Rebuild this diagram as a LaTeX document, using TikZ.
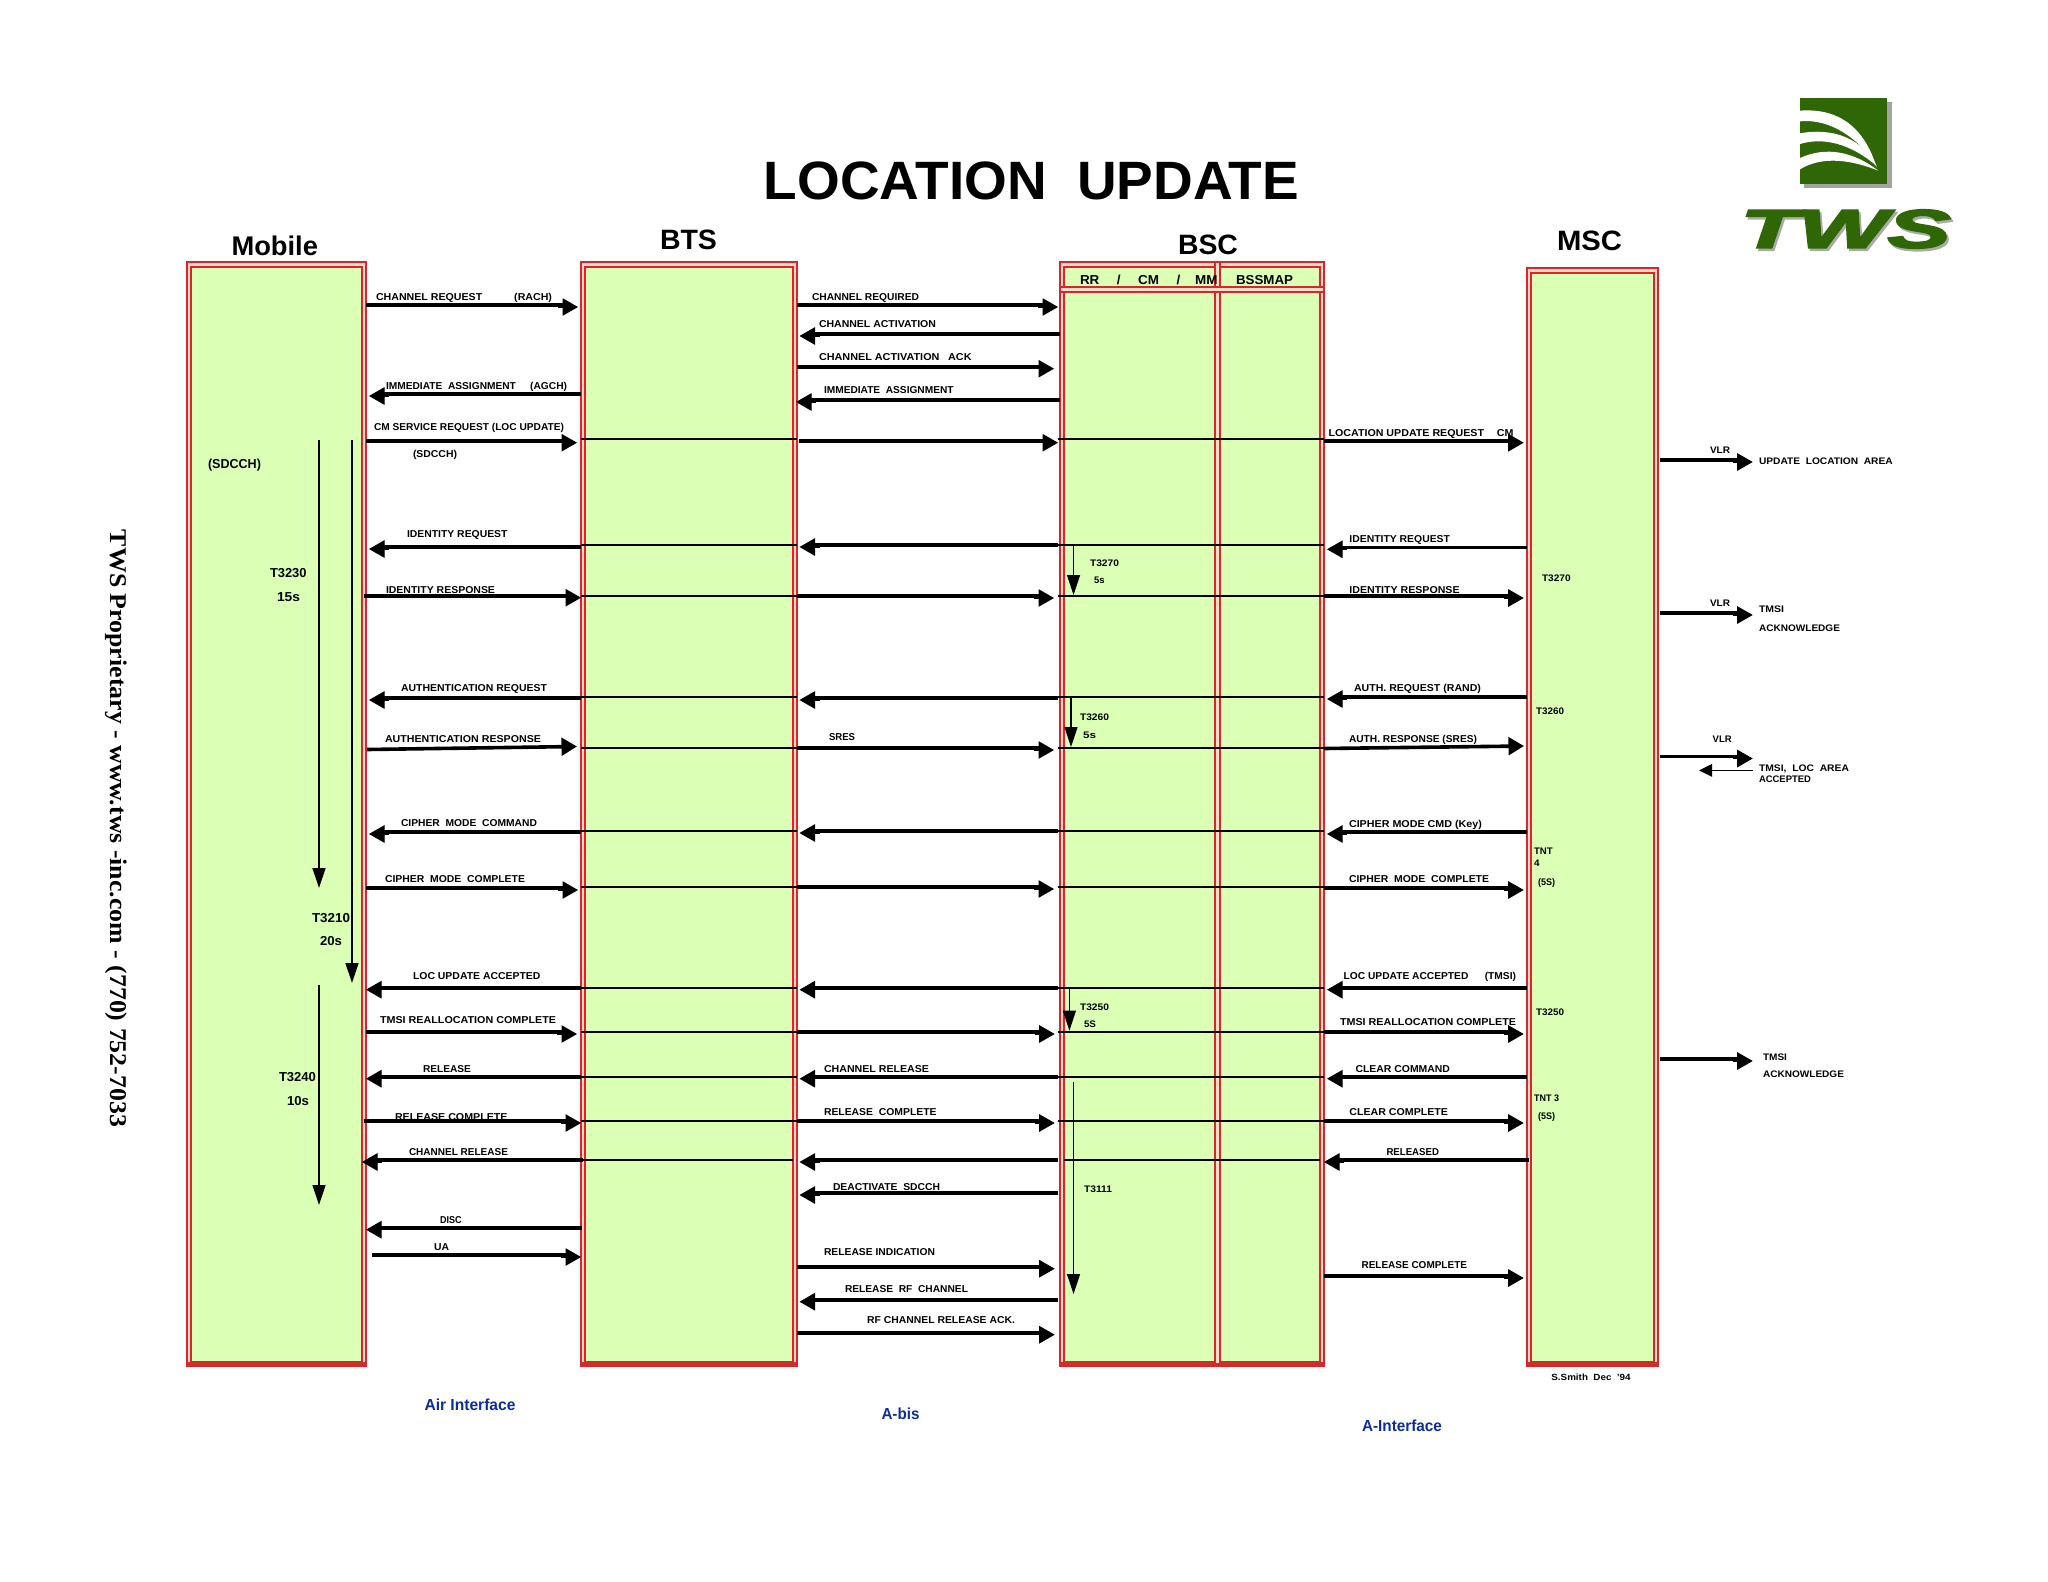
\documentclass[tikz,border=0pt]{standalone}
\usepackage{fontspec}
\setmainfont{Liberation Sans}
\newfontfamily\serifbold{Liberation Serif}
\newfontfamily\twsface[RawFeature={embolden=3}]{Liberation Sans}
\usetikzlibrary{arrows.meta}
\definecolor{lanefill}{HTML}{DBFFB4}
\definecolor{lanegap}{HTML}{FADFC4}
\definecolor{laneline}{HTML}{E3202C}
\definecolor{lanebase}{HTML}{CC3028}
\definecolor{ifaceblue}{HTML}{0C2C9C}
\definecolor{twsgreen}{HTML}{2F6606}
\definecolor{twsshadow}{HTML}{A8ADA4}
\tikzset{
  laneouter/.style={draw=laneline,line width=1.6pt,fill=lanegap,inner sep=0pt,outer sep=0pt},
  laneinner/.style={draw=laneline,line width=1.6pt,fill=lanefill,inner sep=0pt,outer sep=0pt},
  lab/.style={anchor=base,inner sep=0pt,outer sep=0pt,font=\bfseries},
  thickmsg/.style={line width=3.6pt,-{Triangle[length=15.5pt,width=17.5pt]}},
  shaft/.style={line width=3.6pt,shorten >=8pt},
  headtip/.style={line width=1pt,-{Triangle[length=15.5pt,width=17.5pt]}},
  thinbar/.style={line width=1.9pt},
  backmsg/.style={line width=1.6pt,-{Triangle[length=13pt,width=12.5pt]}},
  timer/.style={line width=1.3pt,-{Triangle[length=20pt,width=13pt]}}
}
% name, x0, y0, x1, y1 : outer edge; inner edge inset
\newcommand\lane[5]{%
  \node[laneouter,minimum width={(#4-#2)*1pt},minimum height={(#5-#3)*1pt}] (#1) at ({(#2+#4)/2},{(#3+#5)/2}) {};
  \node[laneinner,minimum width={(#4-#2-8.5)*1pt},minimum height={(#5-#3-9.5)*1pt}] (#1in) at ({(#2+#4)/2},{(#3+#5)/2+0.5}) {};
  \draw[lanebase,line width=2.4pt] (#1.south west) ++(1,-2.4) -- ++({#4-#2-2},0);
}
% [size] name x0 x1 y text
\newcommand\lbl[6][10]{%
  \node[lab] (#2) at ({(#3+#4)/2},{#5+0.36*#1}) {\fontsize{#1pt}{#1pt}\selectfont\resizebox{\dimexpr #4pt-#3pt\relax}{\height}{#6}};
}
% plain line: style name x0 x1 y
\newcommand\wire[5]{%
  \coordinate (#2a) at (#3,#5);
  \coordinate (#2b) at (#4,#5);
  \draw[#1] (#2a) -- (#2b);
}
% message arrow: name x0 x1 y (the head sits 2px under the shaft, as printed)
\newcommand\msg[4]{%
  \coordinate (#1a) at (#2,#4);
  \coordinate (#1b) at (#3,#4);
  \coordinate (#1h) at ({#3+(#2>#3?20:-20)},{#4+2});
  \coordinate (#1t) at (#3,{#4+2});
  \draw[shaft] (#1a) -- (#1b);
  \draw[headtip] (#1h) -- (#1t);
}
% style name x y0 y1
\newcommand\vwire[5]{%
  \coordinate (#2a) at (#3,#4);
  \coordinate (#2b) at (#3,#5);
  \draw[#1] (#2a) -- (#2b);
}
\newcommand\dbl{\ \ }
\begin{document}
\begin{tikzpicture}[x=1pt,y=-1pt]
\useasboundingbox (0,0) rectangle (2048,1582);

% lanes
\lane{mobile}{187}{262}{366}{1366}
\lane{bts}{581}{262}{797}{1366}
\lane{bsc}{1060}{262}{1324}{1366}
\lane{msc}{1527}{268}{1658}{1366}
\node[laneouter,minimum width=5pt,minimum height=1102pt] (bscdiv) at (1217.2,813) {};
\node[laneouter,minimum width=264pt,minimum height=5pt] (bschead) at (1192,289.2) {};

% titles
\lbl[54]{title}{764}{1299}{180}{LOCATION\ \ UPDATE}
\lbl[27]{tmobile}{231.5}{318}{246}{Mobile}
\lbl[28]{tbts}{660}{717}{239}{BTS}
\lbl[28]{tbsc}{1178}{1238}{244}{BSC}
\lbl[28]{tmsc}{1557}{1622}{240}{MSC}
\lbl[13]{hrr}{1080}{1217.5}{280}{RR\hspace{1.3em}/\hspace{1.3em}CM\hspace{1.3em}/\hspace{1.1em}MM}
\lbl[13]{hmap}{1236}{1293}{280}{BSSMAP}

% thin continuation lines across BTS
\wire{thinbar}{tb1}{581}{797}{439}
\wire{thinbar}{tb2}{581}{797}{545}
\wire{thinbar}{tb3}{581}{797}{595.7}
\wire{thinbar}{tb4}{581}{797}{697}
\wire{thinbar}{tb5}{581}{797}{748}
\wire{thinbar}{tb6}{581}{797}{831}
\wire{thinbar}{tb7}{581}{797}{887}
\wire{thinbar}{tb8}{581}{797}{987.7}
\wire{thinbar}{tb9}{581}{797}{1032}
\wire{thinbar}{tb10}{581}{797}{1076.7}
\wire{thinbar}{tb11}{581}{797}{1121}
\wire{thinbar}{tb12}{583}{793}{1160}
% thin continuation lines across BSC
\wire{thinbar}{tc1}{1058}{1324}{438.7}
\wire{thinbar}{tc2}{1058}{1324}{545}
\wire{thinbar}{tc3}{1058}{1324}{596}
\wire{thinbar}{tc4}{1058}{1324}{697}
\wire{thinbar}{tc5}{1058}{1324}{748}
\wire{thinbar}{tc6}{1058}{1324}{831}
\wire{thinbar}{tc7}{1058}{1324}{887}
\wire{thinbar}{tc8}{1058}{1324}{987.7}
\wire{thinbar}{tc9}{1058}{1324}{1032}
\wire{thinbar}{tc10}{1058}{1324}{1076.7}
\wire{thinbar}{tc11}{1058}{1324}{1121}
\wire{thinbar}{tc12}{1064}{1320}{1160}

% Mobile - BTS messages
\msg{a1}{366}{578}{305}
\msg{a2}{581}{369}{394}
\msg{a3}{366}{577}{440.7}
\msg{a4}{581}{369}{547}
\msg{a5}{364}{581}{595.7}
\msg{a6}{581}{369}{698}
\coordinate (a7a) at (367,749.5);
\coordinate (a7b) at (577,746.5);
\draw[thickmsg] (a7a) -- (a7b);
\msg{a8}{581}{369}{832}
\msg{a9}{366}{578}{888}
\msg{a10}{581}{366}{987.7}
\msg{a11}{366}{577}{1032}
\msg{a12}{581}{366}{1076.7}
\msg{a13}{364}{581}{1121}
\msg{a14}{583}{362}{1160}
\msg{a15}{582}{366}{1227.7}
\msg{a16}{372}{581}{1255}

% BTS - BSC messages
\msg{b1}{797}{1058}{305}
\msg{b2}{1060}{799.5}{334}
\msg{b3}{797}{1054}{366.7}
\msg{b4}{1060}{796}{400}
\msg{b5}{798.6}{1058}{440.7}
\msg{b6}{1058}{799.5}{545}
\msg{b7}{797}{1054}{596}
\msg{b8}{1058}{799.5}{698}
\msg{b9}{797}{1054}{748}
\msg{b10}{1058}{799.5}{831}
\msg{b11}{797}{1054}{887}
\msg{b12}{1058}{799.5}{987.7}
\msg{b13}{797}{1054.7}{1032}
\msg{b14}{1058}{799.5}{1076.7}
\msg{b15}{797}{1054.7}{1121}
\msg{b16}{1058}{799.5}{1160}
\msg{b17}{1058}{799.5}{1193}
\msg{b18}{797}{1054.7}{1266.7}
\msg{b19}{1058}{799.5}{1299.7}
\msg{b20}{797}{1054.7}{1332.7}

% BSC - MSC messages
\msg{c1}{1324}{1523.7}{440.7}
\msg{c2}{1527}{1327}{547.3}
\msg{c3}{1324}{1523.7}{596}
\msg{c4}{1527}{1327}{697}
\coordinate (c5a) at (1324,748.5);
\coordinate (c5b) at (1524,746);
\draw[thickmsg] (c5a) -- (c5b);
\msg{c6}{1527}{1327}{832}
\msg{c7}{1324}{1523.7}{888}
\msg{c8}{1527}{1327}{987.7}
\msg{c9}{1324}{1523.7}{1032}
\msg{c10}{1527}{1327}{1076.7}
\msg{c11}{1324}{1523.7}{1121}
\msg{c12}{1528.6}{1324}{1160}
\msg{c13}{1324}{1523.7}{1276}

% MSC - VLR
\msg{d1}{1660}{1752.7}{460}
\msg{d2}{1660}{1752.7}{613}
\msg{d3}{1660}{1752.7}{756.5}
\wire{backmsg}{d4}{1753}{1699}{770.4}
\msg{d5}{1660}{1752.7}{1059}

% timers
\vwire{timer}{v1}{319}{440}{888}
\vwire{timer}{v2}{352}{440}{983}
\vwire{timer}{v3}{319}{985}{1205}
\vwire{timer}{v4}{1073.5}{545}{595}
\vwire{timer}{v5}{1071}{697}{747}
\vwire{timer}{v6}{1069.4}{987.7}{1030.7}
\vwire{timer}{v7}{1073.5}{1082}{1294}

% Mobile - BTS labels
\lbl{la1}{376}{552}{296.7}{CHANNEL\ REQUEST\hspace{3em}(RACH)}
\lbl{la2}{386}{567}{386}{IMMEDIATE\dbl ASSIGNMENT\hspace{1.4em}(AGCH)}
\lbl{la3}{374}{564}{426.7}{CM SERVICE REQUEST (LOC UPDATE)}
\lbl{la3b}{413}{457}{454}{(SDCCH)}
\lbl[13]{sdcch}{208}{261}{464}{(SDCCH)}
\lbl{la4}{407}{507.5}{533.7}{IDENTITY REQUEST}
\lbl{la5}{386}{495}{590}{IDENTITY\ RESPONSE}
\lbl{la6}{401}{547}{688}{AUTHENTICATION\ REQUEST}
\lbl{la7}{385}{541}{739}{AUTHENTICATION\ RESPONSE}
\lbl{la8}{401}{537}{823}{CIPHER\dbl MODE\dbl COMMAND}
\lbl{la9}{385}{525}{879}{CIPHER\dbl MODE\dbl COMPLETE}
\lbl{la10}{413}{540.5}{975.7}{LOC\ UPDATE\ ACCEPTED}
\lbl{la11}{380}{556}{1020}{TMSI\ REALLOCATION\ COMPLETE}
\lbl{la12}{423}{471}{1068.7}{RELEASE}
\lbl{la13}{395}{507.5}{1116.7}{RELEASE\ COMPLETE}
\lbl{la14}{409}{508}{1151.7}{CHANNEL RELEASE}
\lbl{la15}{440}{461.5}{1219.7}{DISC}
\lbl{la16}{434}{449}{1247}{UA}

% timer labels (mobile)
\lbl[13]{t1}{270}{306.6}{573}{T3230}
\lbl[13]{t1b}{277}{300}{597}{15s}
\lbl[13]{t2}{312}{350}{918}{T3210}
\lbl[13]{t2b}{320}{342}{941}{20s}
\lbl[13]{t3}{279}{316}{1077}{T3240}
\lbl[13]{t3b}{287}{309}{1100.7}{10s}

% BTS - BSC labels
\lbl{lb1}{812}{919}{296.6}{CHANNEL\ REQUIRED}
\lbl{lb2}{819}{936}{324}{CHANNEL\ ACTIVATION}
\lbl{lb3}{819}{971.6}{357}{CHANNEL\ ACTIVATION\hspace{0.8em}ACK}
\lbl{lb4}{824}{953.6}{390}{IMMEDIATE\dbl ASSIGNMENT}
\lbl{lb9}{829}{855}{736.6}{SRES}
\lbl{lb14}{824}{929}{1068.7}{CHANNEL\ RELEASE}
\lbl{lb15}{824}{936.6}{1111.5}{RELEASE\dbl COMPLETE}
\lbl{lb17}{833}{940}{1187}{DEACTIVATE\dbl SDCCH}
\lbl{lb18}{824}{935}{1252}{RELEASE INDICATION}
\lbl{lb19}{845}{968}{1289}{RELEASE\dbl RF\dbl CHANNEL}
\lbl{lb20}{867}{1015}{1320}{RF CHANNEL RELEASE ACK.}

% timers in BSC
\lbl[9.5]{tb3270}{1090}{1119}{562.7}{T3270}
\lbl[9.5]{tb3270b}{1094}{1104.5}{580}{5s}
\lbl[9.5]{tb3260}{1080}{1109}{717}{T3260}
\lbl[9.5]{tb3260b}{1083}{1096}{735}{5s}
\lbl[9.5]{tb3250}{1080}{1109}{1006.7}{T3250}
\lbl[9.5]{tb3250b}{1084}{1096}{1024}{5S}
\lbl[9.5]{tb3111}{1084}{1112}{1189}{T3111}

% BSC - MSC labels
\lbl{lc1}{1328.6}{1513.5}{432.7}{LOCATION\ UPDATE\ REQUEST\hspace{1.2em}CM}
\lbl{lc2}{1349.4}{1450}{539.3}{IDENTITY REQUEST}
\lbl{lc3}{1349.4}{1459.6}{589.7}{IDENTITY\ RESPONSE}
\lbl{lc4}{1354}{1481}{688}{AUTH.\ REQUEST\ (RAND)}
\lbl{lc5}{1349}{1477}{739}{AUTH.\ RESPONSE\ (SRES)}
\lbl{lc6}{1349}{1482}{824}{CIPHER\ MODE\ CMD\ (Key)}
\lbl{lc7}{1349}{1489}{879}{CIPHER\dbl MODE\dbl COMPLETE}
\lbl{lc8}{1343.7}{1516}{975.7}{LOC\ UPDATE\ ACCEPTED\hspace{1.6em}(TMSI)}
\lbl{lc9}{1340}{1516}{1022}{TMSI\ REALLOCATION\ COMPLETE}
\lbl{lc10}{1355.5}{1450}{1068.7}{CLEAR\ COMMAND}
\lbl{lc11}{1349.4}{1448}{1111.7}{CLEAR\ COMPLETE}
\lbl{lc12}{1386.5}{1439}{1151.7}{RELEASED}
\lbl{lc13}{1361.6}{1467}{1264.7}{RELEASE COMPLETE}

% timers in MSC
\lbl[9.5]{tm1}{1542}{1570.6}{578}{T3270}
\lbl[9.5]{tm2}{1536}{1564}{711.5}{T3260}
\lbl[9.5]{tm3}{1534}{1552.7}{851}{TNT}
\lbl[9.5]{tm3b}{1534}{1539.5}{863}{4}
\lbl[9.5]{tm3c}{1538}{1555}{882.5}{(5S)}
\lbl[9.5]{tm4}{1536}{1564}{1012}{T3250}
\lbl[9.5]{tm5}{1534}{1559}{1098}{TNT 3}
\lbl[9.5]{tm5b}{1538}{1555}{1116}{(5S)}

% VLR side
\lbl[9.5]{v1l}{1710}{1730}{450}{VLR}
\lbl[9.5]{v1t}{1759}{1892.7}{461.5}{UPDATE\dbl LOCATION\dbl AREA}
\lbl[9.5]{v2l}{1710}{1730}{603}{VLR}
\lbl[9.5]{v2t}{1759}{1784}{609}{TMSI}
\lbl[9.5]{v2u}{1759}{1840}{628}{ACKNOWLEDGE}
\lbl[9.5]{v3l}{1712.7}{1731.7}{739}{VLR}
\lbl[9.5]{v3t}{1759}{1849}{767.8}{TMSI,\dbl LOC\dbl AREA}
\lbl[9.5]{v3u}{1759}{1811}{779}{ACCEPTED}
\lbl[9.5]{v4t}{1763}{1787}{1057}{TMSI}
\lbl[9.5]{v4u}{1763}{1844}{1074}{ACKNOWLEDGE}

% footer
\lbl[9]{sig}{1551.4}{1630.6}{1377}{S.Smith\ \ Dec\ \ '94}
\node[lab,text=ifaceblue] (air) at (470,1410) {\fontsize{16pt}{16pt}\selectfont\resizebox{91pt}{\height}{Air Interface}};
\node[lab,text=ifaceblue] (abis) at (900.5,1419) {\fontsize{16pt}{16pt}\selectfont\resizebox{38pt}{\height}{A-bis}};
\node[lab,text=ifaceblue] (aint) at (1402,1431) {\fontsize{16pt}{16pt}\selectfont\resizebox{80pt}{\height}{A-Interface}};

% rotated side text
\node[anchor=center,inner sep=0pt,rotate=-90] (prop) at (116,828.5) {\fontsize{24pt}{24pt}\serifbold\bfseries\resizebox{597pt}{\height}{TWS Proprietary - www.tws -inc.com - (770) 752-7033}};

% logo
\begin{scope}[shift={(1680,70)},x=0.3333pt,y=-0.3333pt]
  \fill[twsshadow!80!gray] (372,97) rectangle (636,355);
  \fill[twsgreen] (360,85) rectangle (622,343);
  \fill[white] (360,122) .. controls (470,114) and (550,165) .. (590,292)
     .. controls (540,205) and (450,145) .. (360,154) -- cycle;
  \fill[white] (360,190) .. controls (460,172) and (545,205) .. (590,288)
     .. controls (535,240) and (450,195) .. (360,222) -- cycle;
  \fill[white] (360,264) .. controls (440,228) and (520,245) .. (595,302)
     .. controls (520,272) and (430,255) .. (360,298) -- cycle;
\end{scope}
\node[inner sep=0pt,text=twsshadow] (twsback) at (1847.5,231.5) {\resizebox{210pt}{38pt}{\twsface\bfseries\itshape TWS}};
\node[inner sep=0pt,text=twsgreen] (twsfront) at (1845.5,229) {\resizebox{210pt}{38pt}{\twsface\bfseries\itshape TWS}};
\end{tikzpicture}
\end{document}
